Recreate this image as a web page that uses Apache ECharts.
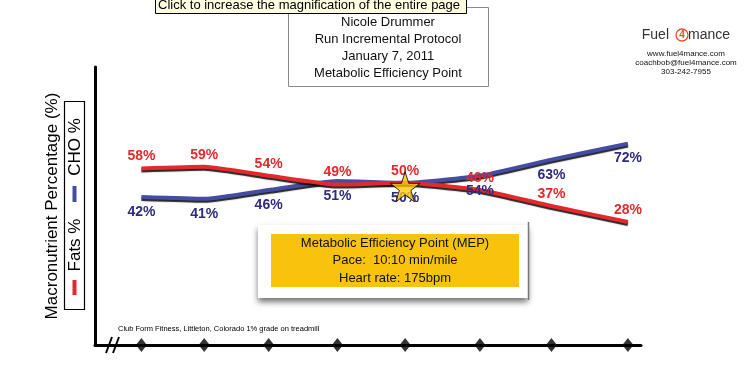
<!DOCTYPE html>
<html>
<head>
<meta charset="utf-8">
<script src="https://cdn.jsdelivr.net/npm/echarts@6/dist/echarts.min.js"></script>
<style>
  html, body { margin: 0; padding: 0; background: #fff; }
  #mepChart { width: 753px; height: 376px; }
</style>
</head>
<body>
<div id="mepChart"></div>
<script>
// stage positions along the (unlabelled) x axis, 0-100
const stagePos = [8.5, 20, 31.8, 44.4, 56.8, 70.5, 83.6, 97.6];
const fatsPct = [58, 59, 54, 49, 50, 46, 37, 28];
const choPct = [42, 41, 46, 51, 50, 54, 63, 72];
const mepIndex = 4;

const titleLines = ['Nicole Drummer', 'Run Incremental Protocol', 'January 7, 2011', 'Metabolic Efficiency Point'];
const mepLines = ['Metabolic Efficiency Point (MEP)', 'Pace:  10:10 min/mile', 'Heart rate: 175bpm'];
const contactLines = ['www.fuel4mance.com', 'coachbob@fuel4mance.com', '303-242-7955'];

const RED = '#e4282b';
const BLUE = '#454ca3';
const FONT = 'Arial, "Liberation Sans", sans-serif';

const STAR = 'path://M50,0 L61.8,35.2 L98.5,35.2 L68.8,57 L79.9,92 L50,70.5 L20.1,92 L31.2,57 L1.5,35.2 L38.2,35.2 Z';

let myChart = echarts.init(document.getElementById('mepChart'));

const lineSeries = (name, values, color, labelColor, pos, dist) => ({
  name: name,
  type: 'line',
  data: values.map((v, i) => [stagePos[i], v]),
  symbol: 'circle',
  symbolSize: 0,
  showSymbol: true,
  smooth: 0.15,
  lineStyle: {
    color: color,
    width: 4,
    shadowColor: 'rgba(0,0,0,0.85)',
    shadowOffsetY: 2,
    shadowBlur: 1
  },
  itemStyle: { color: color },
  label: {
    show: true,
    position: pos,
    distance: dist,
    formatter: p => p.value[1] + '%',
    color: labelColor,
    fontFamily: FONT,
    fontWeight: 'bold',
    fontSize: 14
  },
  animation: false
});

let graphics = [];

// title box
graphics.push({
  type: 'rect', shape: { x: 288.5, y: 7.5, width: 200, height: 79 },
  style: { fill: '#fff', stroke: '#8a8a8a', lineWidth: 1 }, z: 10
});
titleLines.forEach((t, i) => graphics.push({
  type: 'text', x: 388, y: 22 + i * 17,
  style: { text: t, font: '13px ' + FONT, fill: '#111', textAlign: 'center', textVerticalAlign: 'middle' }, z: 11
}));

// browser tooltip strip
graphics.push({
  type: 'rect', shape: { x: 155.5, y: -3.5, width: 311, height: 17 },
  style: { fill: '#ffffe1', stroke: '#000', lineWidth: 1 }, z: 20
});
graphics.push({
  type: 'text', x: 158, y: 5,
  style: { text: 'Click to increase the magnification of the entire page', font: '13px ' + FONT, fill: '#000', textVerticalAlign: 'middle' }, z: 21
});

// logo
graphics.push({
  type: 'text', x: 669, y: 35,
  style: { text: 'Fuel', font: '14px ' + FONT, fill: '#333', textAlign: 'right', textVerticalAlign: 'middle' }, z: 10
});
graphics.push({
  type: 'circle', shape: { cx: 682, cy: 35, r: 6 },
  style: { fill: '#fff', stroke: '#e8502a', lineWidth: 1.3 }, z: 10
});
graphics.push({
  type: 'text', x: 682, y: 35.5,
  style: { text: '4', font: 'bold 10px ' + FONT, fill: '#e8502a', textAlign: 'center', textVerticalAlign: 'middle' }, z: 11
});
graphics.push({
  type: 'text', x: 688, y: 35,
  style: { text: 'mance', font: '14px ' + FONT, fill: '#333', textVerticalAlign: 'middle' }, z: 10
});
contactLines.forEach((t, i) => graphics.push({
  type: 'text', x: 686, y: 54 + i * 9,
  style: { text: t, font: '8px ' + FONT, fill: '#111', textAlign: 'center', textVerticalAlign: 'middle' }, z: 10
}));

// rotated legend box
graphics.push({
  type: 'rect', shape: { x: 64.5, y: 101.5, width: 20, height: 208 },
  style: { fill: 'none', stroke: '#000', lineWidth: 1.2 }, z: 10
});
graphics.push({
  type: 'line', shape: { x1: 74.5, y1: 280, x2: 74.5, y2: 295 },
  style: { stroke: RED, lineWidth: 4 }, z: 10
});
graphics.push({
  type: 'line', shape: { x1: 74.5, y1: 186, x2: 74.5, y2: 202 },
  style: { stroke: BLUE, lineWidth: 4 }, z: 10
});
graphics.push({
  type: 'text', x: 75, y: 245, rotation: Math.PI / 2,
  style: { text: 'Fats %', font: '17px ' + FONT, fill: '#000', textAlign: 'center', textVerticalAlign: 'middle' }, z: 10
});
graphics.push({
  type: 'text', x: 75, y: 147, rotation: Math.PI / 2,
  style: { text: 'CHO %', font: '17px ' + FONT, fill: '#000', textAlign: 'center', textVerticalAlign: 'middle' }, z: 10
});

// footnote
graphics.push({
  type: 'text', x: 118, y: 329,
  style: { text: 'Club Form Fitness, Littleton, Colorado 1% grade on treadmill', font: '7.5px ' + FONT, fill: '#000', textVerticalAlign: 'middle' }, z: 10
});

// axis break marks
graphics.push({
  type: 'line', shape: { x1: 106, y1: 353, x2: 112, y2: 337 },
  style: { stroke: '#000', lineWidth: 2 }, z: 10
});
graphics.push({
  type: 'line', shape: { x1: 113, y1: 353, x2: 119, y2: 337 },
  style: { stroke: '#000', lineWidth: 2 }, z: 10
});

// MEP card
graphics.push({
  type: 'rect', shape: { x: 258, y: 225, width: 270, height: 73 },
  style: { fill: '#fff', shadowColor: 'rgba(0,0,0,0.55)', shadowBlur: 6, shadowOffsetY: 4 }, z: 10
});
graphics.push({
  type: 'line', shape: { x1: 528.5, y1: 222, x2: 528.5, y2: 300 },
  style: { stroke: '#777', lineWidth: 1.5 }, z: 11
});
graphics.push({
  type: 'rect', shape: { x: 271, y: 234, width: 248, height: 53 },
  style: { fill: '#f9c20d' }, z: 11
});
mepLines.forEach((t, i) => graphics.push({
  type: 'text', x: 395, y: 243 + i * 17.5,
  style: { text: t, font: '13px ' + FONT, fill: '#111', textAlign: 'center', textVerticalAlign: 'middle' }, z: 12
}));

myChart.setOption({
  animation: false,
  grid: { left: 95, right: 112, top: 67, bottom: 31 },
  xAxis: {
    type: 'value',
    min: 0,
    max: 100,
    axisLine: { show: true, onZero: false, lineStyle: { color: '#000', width: 3 } },
    axisTick: { show: false },
    axisLabel: { show: false },
    splitLine: { show: false }
  },
  yAxis: {
    type: 'value',
    min: -41,
    max: 115,
    name: 'Macronutrient Percentage (%)',
    nameLocation: 'middle',
    nameGap: 34,
    nameTextStyle: { fontFamily: FONT, fontSize: 17, color: '#000' },
    axisLine: { show: true, lineStyle: { color: '#000', width: 3 } },
    axisTick: { show: false },
    axisLabel: { show: false },
    splitLine: { show: false }
  },
  series: [
    lineSeries('CHO %', choPct, BLUE, '#2e2b7c', 'bottom', 8),
    lineSeries('Fats %', fatsPct, RED, RED, 'top', 5),
    {
      name: 'stages',
      type: 'scatter',
      data: stagePos.map(x => [x, -41]),
      symbol: 'diamond',
      symbolSize: [11, 14],
      itemStyle: { color: '#000' },
      clip: false,
      z: 5
    },
    {
      name: 'MEP',
      type: 'scatter',
      data: [[stagePos[mepIndex], fatsPct[mepIndex]]],
      symbol: STAR,
      symbolSize: [30, 30],
      symbolOffset: [0, 4],
      itemStyle: { color: '#fcc80f', borderColor: '#000', borderWidth: 1 },
      z: 6
    }
  ],
  graphic: graphics
});

window.addEventListener('resize', function() {
  myChart.resize();
});
</script>
</body>
</html>
